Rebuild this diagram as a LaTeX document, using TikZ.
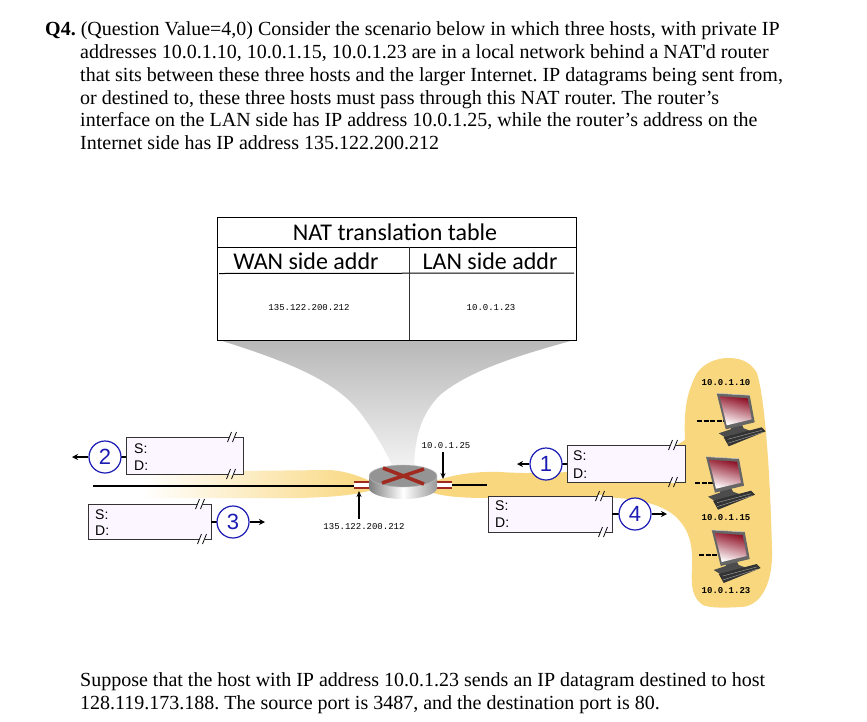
\documentclass[tikz,border=0pt]{standalone}
\usepackage{fontspec}
\setmainfont{Liberation Serif}
\newfontfamily\arialf{Liberation Sans}
\newfontfamily\calib{Carlito}
\newfontfamily\monof{Liberation Mono}
\usetikzlibrary{arrows.meta}
\definecolor{blobc}{HTML}{F9D77E}
\definecolor{boxc}{HTML}{FBF6FF}
\definecolor{bluec}{HTML}{1C1CB4}
\definecolor{routerred}{HTML}{A02A20}
\definecolor{screenred}{HTML}{8E0F24}
\tikzset{
 para/.style={anchor=base west,inner sep=0pt,font=\fontsize{20}{23}\selectfont},
 tiplab/.style={inner sep=0pt,font=\monof\fontsize{9}{9}\selectfont},
 hostlab/.style={inner sep=0pt,font=\monof\bfseries\fontsize{9}{9}\selectfont},
 headlab/.style={inner sep=0pt,font=\calib\fontsize{24}{24}\selectfont},
 pktbox/.style={draw=black!80,line width=0.9pt,fill=boxc,minimum width=#1,minimum height=36pt,inner sep=0pt,rectangle},
 sd/.style={anchor=base west,inner sep=0pt,font=\arialf\fontsize{14}{14}\selectfont},
 numc/.style={circle,draw=bluec,line width=1.2pt,fill=white,minimum size=32pt,inner sep=0pt,text=bluec,font=\arialf\fontsize{22}{22}\selectfont},
 flow/.style={line width=1.6pt,-{Stealth[length=6pt,width=6pt]}},
 stub/.style={line width=1.6pt},
 tip/.style={line width=1.4pt,-{Stealth[length=6pt,width=5pt]}},
 slash/.style={line width=0.8pt,black},
 netline/.style={line width=1.3pt,black},
 hostdash/.style={line width=1.8pt,black,dash pattern=on 5pt off 1.6pt}
}
\newcommand{\brk}[2]{%
 \fill[white] (#1-3,#2-1.2) rectangle (#1+3,#2+1.2);
 \draw[slash] (#1-4.5,#2+5) -- (#1-0.5,#2-5);
 \draw[slash] (#1+0.5,#2+5) -- (#1+4.5,#2-5);}
\newcommand{\hostpc}[2]{%
 \begin{scope}[shift={(#1,#2)}]
  \fill[black!70] (2,40) -- (14,36) -- (15,31) -- (24,29) -- (27,35) -- (35,38) -- (10,45) -- cycle;
  \fill[black!80] (7,44) -- (45,34) -- (49,38) -- (12,53) -- cycle;
  \draw[black!35,line width=.4pt] (11,46) -- (45,37);
  \draw[black!35,line width=.4pt] (11,50) -- (46,39);
  \fill[black!60] (0,0) -- (33,2) -- (38,29) -- (9,36) -- cycle;
  \draw[black!20,line width=.5pt] (0,0) -- (33,2);
  \shade[top color=screenred,bottom color=white,shading angle=-15] (3,3) -- (31,5) -- (35,26) -- (10,32) -- cycle;
 \end{scope}}
\newcommand{\portbar}[2]{%
 \fill[white] (#1,481) rectangle (#2,488);
 \fill[routerred] (#1,480.5) rectangle (#2,482.5);
 \fill[routerred] (#1,486.5) rectangle (#2,488.5);}
\begin{document}
\begin{tikzpicture}[x=1pt,y=-1pt]
\useasboundingbox (0,0) rectangle (867,721);
\fill[white] (0,0) rectangle (867,721);
\frenchspacing
% question text
\node[para] (q1) at (45,35) {\textbf{Q4.} (Question Value=4,0) Consider the scenario below in which three hosts, with private IP};
\node[para] (q2) at (80,58) {addresses 10.0.1.10, 10.0.1.15, 10.0.1.23 are in a local network behind a NAT\textquotesingle d router};
\node[para] (q3) at (80,81) {that sits between these three hosts and the larger Internet. IP datagrams being sent from,};
\node[para] (q4) at (80,104) {or destined to, these three hosts must pass through this NAT router. The router’s};
\node[para] (q5) at (80,126) {interface on the LAN side has IP address 10.0.1.25, while the router’s address on the};
\node[para] (q6) at (80,149) {Internet side has IP address 135.122.200.212};
\node[para] (q7) at (80,686) {Suppose that the host with IP address 10.0.1.23 sends an IP datagram destined to host};
\node[para] (q8) at (80,709) {128.119.173.188. The source port is 3487, and the destination port is 80.};
% funnel
\shade[top color=black!28,bottom color=black!4]
 (219,340) .. controls (300,365) and (340,385) .. (362,415)
 .. controls (378,437) and (388,455) .. (395,472) -- (414,472)
 .. controls (414,440) and (420,415) .. (440,395)
 .. controls (470,370) and (520,355) .. (574,340) -- cycle;
% yellow regions
\shade[left color=white,right color=blobc]
 (142,472) -- (330,470)
 .. controls (345,471) and (360,476) .. (372,482) -- (372,490)
 .. controls (355,495) and (335,497) .. (300,498) -- (142,498) -- cycle;
\fill[blobc] (430,483) .. controls (448,476) and (470,471) .. (500,472)
 .. controls (560,476) and (640,470) .. (685,440)
 .. controls (684,415) and (685,395) .. (697,373)
 .. controls (705,362) and (718,358) .. (728,358)
 .. controls (745,358) and (752,365) .. (757,373)
 .. controls (765,400) and (770,470) .. (772,550)
 .. controls (773,585) and (760,607) .. (740,607)
 .. controls (725,608) and (710,608) .. (703,605)
 .. controls (692,598) and (691,585) .. (692,570)
 .. controls (693,545) and (690,530) .. (675,516)
 .. controls (662,505) and (640,498) .. (600,497)
 -- (490,498)
 .. controls (465,498) and (445,497) .. (430,492) -- cycle;
% network lines
\coordinate (wanend) at (93,486);
\coordinate (lanend) at (487,485);
\draw[netline] (wanend) -- (355,486);
\draw[netline] (451,485) -- (lanend);
% router
\portbar{354}{371}
\portbar{435}{452}
\shade[left color=black!50,right color=black!40,middle color=white]
 (369,476) -- (369,488) arc[start angle=180,end angle=0,x radius=34,y radius=11] -- (437,476) -- cycle;
\fill[black!42] (403,476) ellipse[x radius=34,y radius=11];
\draw[black!25,line width=.4pt] (403,476) ellipse[x radius=34,y radius=11];
\draw[routerred,line width=3.6pt] (382,483) -- (424,469);
\draw[routerred,line width=3.6pt] (383,468) -- (424,484);
\node[inner sep=0pt] (router) at (403,482) {};
% table
\draw[black,line width=1pt] (217,217) rectangle (576,340);
\draw[black,line width=1pt] (217,247) -- (576,247);
\draw[black,line width=1pt] (219,273.5) -- (574,273);
\draw[black!80,line width=1pt] (409,247) -- (409,340);
\node[headlab] (ttitle) at (395,232) {NAT translation table};
\node[headlab] (twan) at (306,261) {WAN side addr};
\node[headlab] (tlan) at (490,261) {LAN side addr};
\node[tiplab] (tw) at (309,308) {135.122.200.212};
\node[tiplab] (tl) at (491,308) {10.0.1.23};
% address labels
\node[tiplab] (lan) at (446,446) {10.0.1.25};
\node[tiplab] (wan) at (364,527) {135.122.200.212};
\coordinate (lanp) at (443,479);
\coordinate (wanp) at (359,491);
\draw[tip] (lan.south -| lanp) ++(0,3) -- (lanp);
\draw[tip] (wan.north -| wanp) ++(0,-5) -- (wanp);
% packet boxes
\node[pktbox=117pt,minimum height=37pt] (b2) at (184.5,455.5) {};
\node[pktbox=123pt,minimum height=35pt] (b3) at (149.5,521.5) {};
\node[pktbox=118pt,minimum height=37pt] (b1) at (626,463.5) {};
\node[pktbox=124pt,minimum height=36pt] (b4) at (550,514) {};
\brk{232}{437}\brk{231}{474}
\brk{200}{504}\brk{202}{539}
\brk{673}{445}\brk{673}{482}
\brk{600}{496}\brk{603}{532}
\node[sd] (s2) at (134,453) {S:};\node[sd] (d2) at (134,470) {D:};
\node[sd] (s3) at (95,519) {S:};\node[sd] (d3) at (95,535) {D:};
\node[sd] (s1) at (573,460) {S:};\node[sd] (d1) at (573,478) {D:};
\node[sd] (s4) at (495,510) {S:};\node[sd] (d4) at (495,527) {D:};
% numbered circles
\coordinate (c2p) at (105,457);
\coordinate (c3p) at (233,522);
\coordinate (c1p) at (546,464);
\coordinate (c4p) at (635,514);
\draw[stub] (c2p) -- (c2p -| b2.west);
\draw[stub] (c3p) -- (c3p -| b3.east);
\draw[stub] (c1p) -- (c1p -| b1.west);
\draw[stub] (c4p) -- (c4p -| b4.east);
\node[numc] (c2) at (c2p) {2};
\node[numc] (c3) at (c3p) {3};
\node[numc] (c1) at (c1p) {1};
\node[numc] (c4) at (c4p) {4};
\coordinate (a2) at (72,457);
\coordinate (a3) at (265,522);
\coordinate (a1) at (517,464);
\coordinate (a4) at (667,514);
\draw[flow] (c2) -- (a2);
\draw[flow] (c3) -- (a3);
\draw[flow] (c1) -- (a1);
\draw[flow] (c4) -- (a4);
% hosts
\draw[hostdash] (697,421) -- (724,421);
\draw[hostdash] (695,483) -- (713,483);
\draw[hostdash] (699,555) -- (717,555);
\hostpc{716.7}{393.3}
\hostpc{706}{456.7}
\hostpc{711.7}{530}
\node[hostlab] (h1) at (726,383) {10.0.1.10};
\node[hostlab] (h2) at (726,518) {10.0.1.15};
\node[hostlab] (h3) at (726,591) {10.0.1.23};
\end{tikzpicture}
\end{document}
